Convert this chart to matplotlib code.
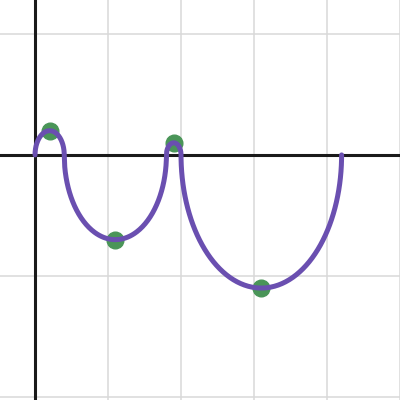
import matplotlib
matplotlib.use("Agg")
import matplotlib.pyplot as plt
import numpy as np

# semicircle arcs: start x, radius, direction (+1 up, -1 down)
arc_starts = [0.0, 0.4, 1.8, 2.0]
arc_radii = [0.2, 0.7, 0.1, 1.1]
arc_signs = [1, -1, 1, -1]

# highlighted extrema
point_x = [0.2, 1.1, 1.9, 3.1]
point_y = [0.2, -0.7, 0.1, -1.1]

grid_x = [1, 2, 3, 4, 5]
grid_y = [-2, -1, 1]

fig = plt.figure(figsize=(4, 4), dpi=100)
ax = fig.add_axes([0, 0, 1, 1])
ax.set_xlim(-0.48, 5.0)
ax.set_ylim(-2.025, 1.28)

for gx in grid_x:
    ax.axvline(gx, color="#d8d8d8", linewidth=1.1, zorder=0)
for gy in grid_y:
    ax.axhline(gy, color="#d8d8d8", linewidth=1.1, zorder=0)
ax.axhline(0, color="#1a1a1a", linewidth=2.2, zorder=1)
ax.axvline(0, color="#1a1a1a", linewidth=2.2, zorder=1)

xs, ys = [], []
for start, r, s in zip(arc_starts, arc_radii, arc_signs):
    t = np.linspace(np.pi, 0, 200)
    xs.append(start + r + r * np.cos(t))
    ys.append(s * r * np.sin(t))
ax.plot(np.concatenate(xs), np.concatenate(ys), color="#6a4fb0",
        linewidth=3.6, solid_capstyle="round", zorder=3)

ax.plot(point_x, point_y, "o", color="#4a9558", markersize=12, zorder=2)

ax.set_xticks([])
ax.set_yticks([])
for spine in ax.spines.values():
    spine.set_visible(False)

fig.savefig("out.png", dpi=100)
